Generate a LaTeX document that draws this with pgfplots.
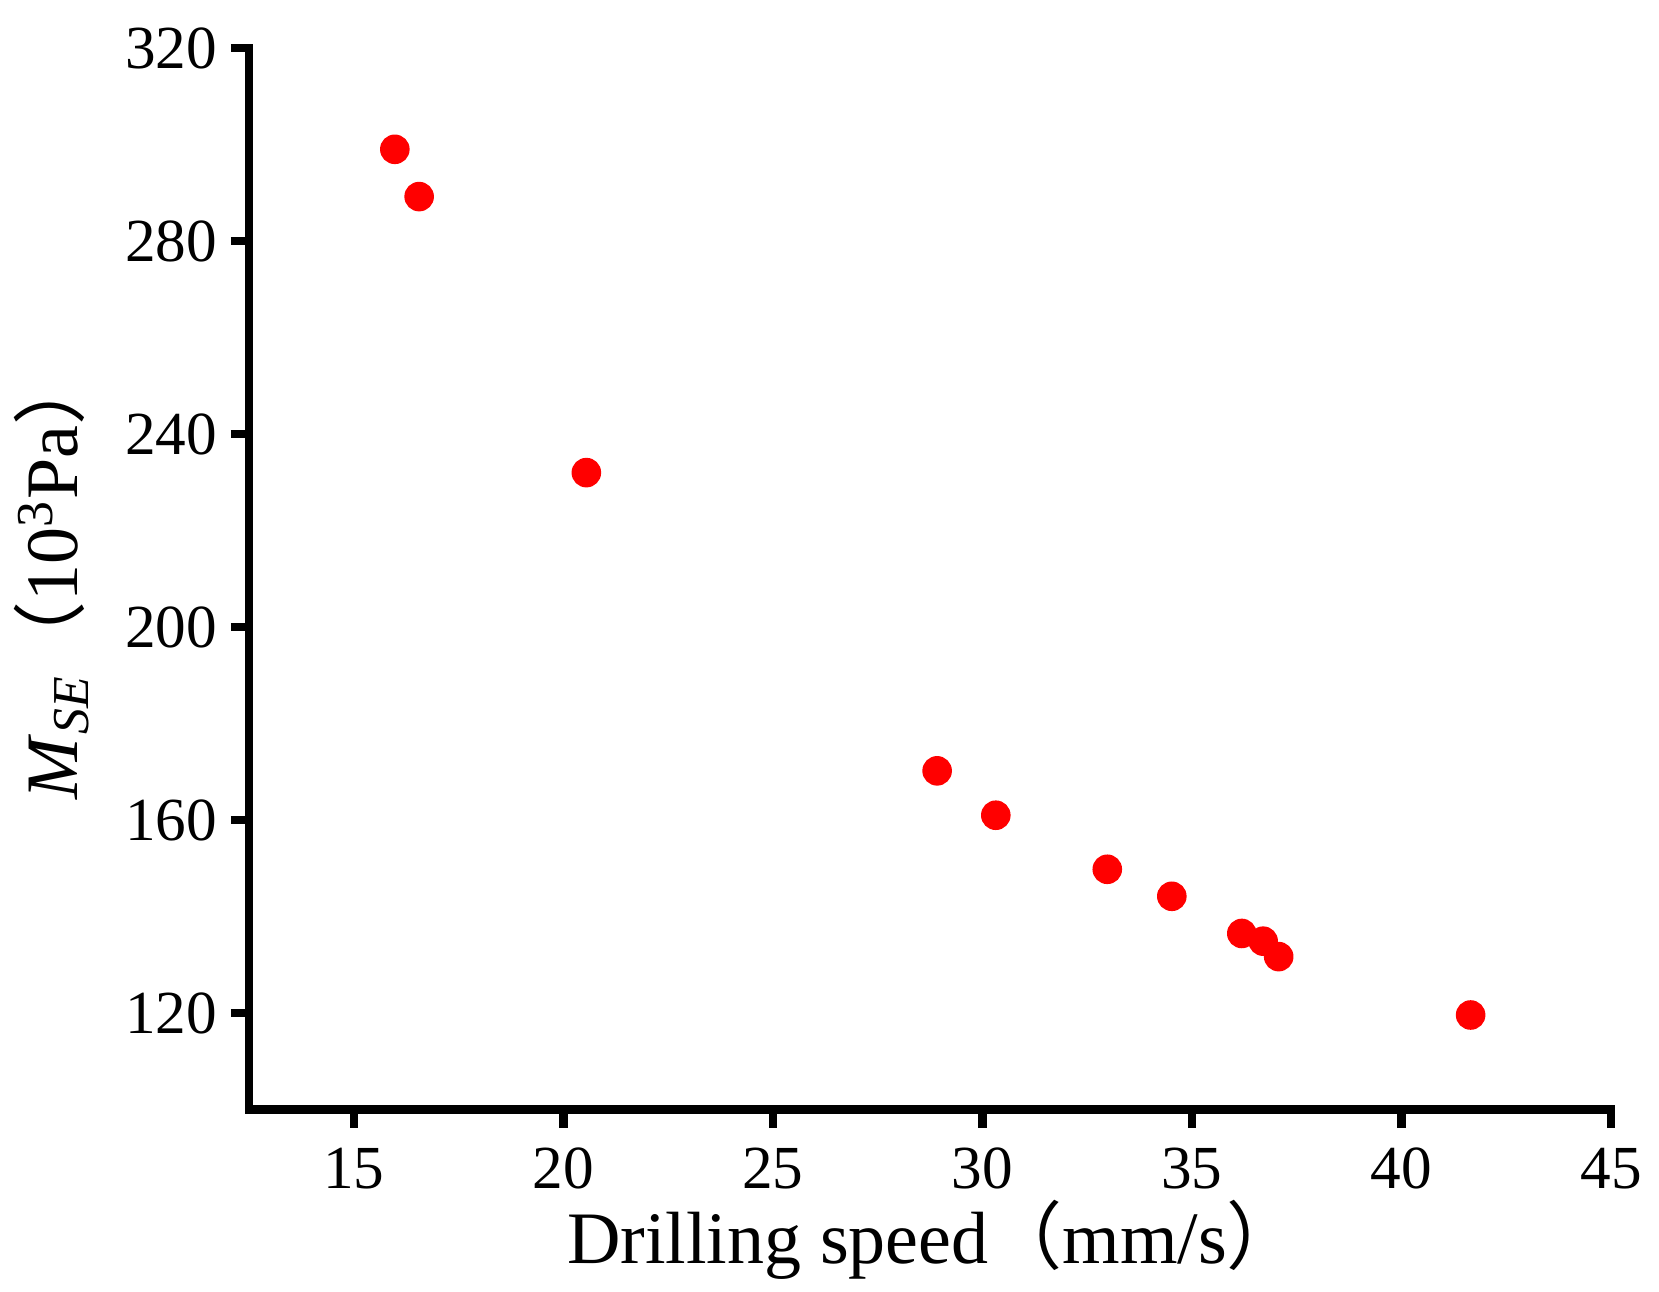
\documentclass[border=0pt]{standalone}
\usepackage{pgfplots}
\pgfplotsset{compat=1.18}
\usepackage{fontspec}
\setmainfont{Liberation Serif}
\newfontfamily\cjk{Noto Sans CJK SC}
\begin{document}
\begin{tikzpicture}
\path[use as bounding box] (-62.25pt,-45.4pt) rectangle (352.5pt,277.4pt);
\begin{axis}[
  at={(0pt,0pt)}, anchor=south west,
  scale only axis,
  width=340.5pt, height=265.4pt,
  xmin=12.5, xmax=45, ymin=100, ymax=320,
  axis x line*=bottom, axis y line*=left,
  axis line style={line width=2.1pt, line cap=rect},
  xtick={15,20,25,30,35,40,45},
  ytick={120,160,200,240,280,320},
  tick style={line width=2.1pt, black},
  major tick length=4.5pt,
  tick align=outside,
  ticklabel style={font=\fontsize{15.3}{16}\selectfont},
  /pgf/number format/assume math mode=true,
  xticklabel style={yshift=-1.5pt},
  xlabel={Drilling speed{\cjk （}mm/s{\cjk ）}},
  ylabel={\textit{M}\textsubscript{\textit{SE}}{\cjk （}10\textsuperscript{3}Pa{\cjk ）}},
  xlabel style={at={(axis description cs:0.503,-0.1446)}, anchor=base, font=\fontsize{18.5}{20}\selectfont},
  ylabel style={at={(axis description cs:-0.1256,0.503)}, anchor=base, font=\fontsize{18.5}{20}\selectfont},
  clip=false,
]
\addplot[only marks, mark=*, mark size=3.5pt, draw=none, mark options={fill=red, draw=none}, color=red] coordinates {
(15.98,299.0)
(16.56,289.2)
(20.55,232.0)
(28.92,170.2)
(30.32,161.0)
(32.98,149.8)
(34.52,144.2)
(36.19,136.5)
(36.70,134.9)
(37.07,131.7)
(41.65,119.6)
};
\end{axis}
\end{tikzpicture}
\end{document}
